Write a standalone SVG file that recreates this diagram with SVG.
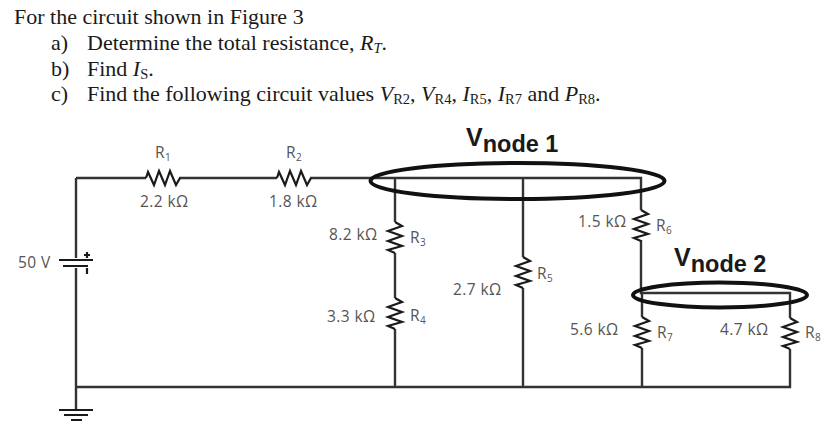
<svg xmlns="http://www.w3.org/2000/svg" width="837" height="432" viewBox="0 0 837 432">
<style>
.q{font-family:"Liberation Serif",serif;font-size:22px;fill:#1a1a1a}
.s{font-size:14.500px}
.i{font-style:italic}
.l{font-family:"Open Sans","Liberation Sans",sans-serif;font-size:15.500px;letter-spacing:.4px;fill:#555}
.sub{font-size:10px}
.v{font-family:"Liberation Sans",sans-serif;font-weight:bold;fill:#1a1a1a}
.w{fill:none;stroke:#333;stroke-width:2.400}
.r{fill:none;stroke:#1a1a1a;stroke-width:2.200;stroke-linejoin:miter}
.o{fill:none;stroke:#111;stroke-width:4}
</style>
<rect width="837" height="432" fill="#fff"/>
<g id="question">
<text class="q" x="14" y="24">For the circuit shown in Figure 3</text>
<text class="q" x="51" y="50">a)</text><text class="q" x="87" y="50">Determine the total resistance, <tspan class="i">R</tspan><tspan class="i s" dy="3">T</tspan><tspan dy="-3">.</tspan></text>
<text class="q" x="51" y="76">b)</text><text class="q" x="87" y="76">Find <tspan class="i">I</tspan><tspan class="s" dy="3">S</tspan><tspan dy="-3">.</tspan></text>
<text class="q" x="51" y="101">c)</text><text class="q" x="87" y="101">Find the following circuit values <tspan class="i">V</tspan><tspan class="s" dy="3">R2</tspan><tspan dy="-3">, </tspan><tspan class="i">V</tspan><tspan class="s" dy="3">R4</tspan><tspan dy="-3">, </tspan><tspan class="i">I</tspan><tspan class="s" dy="3">R5</tspan><tspan dy="-3">, </tspan><tspan class="i">I</tspan><tspan class="s" dy="3">R7</tspan><tspan dy="-3"> and </tspan><tspan class="i">P</tspan><tspan class="s" dy="3">R8</tspan><tspan dy="-3">.</tspan></text>
</g>
<g id="connectors">
<path class="w" d="M76 178H146M179 178H277M310 178H523H641V210M641 240V293H790V318M642 293V317M642 348V387M790 349V387H76M76 178V258M76 268V388V410M395 178V222M395 253V298M395 329V387M523 178V257M523 288V387"/>
</g>
<defs>
<path id="zh" class="r" d="M0 0l2-6 6 13 5-14 6 14 5-14 6 14 4-7"/>
<path id="zv" class="r" d="M0 0l7 4-14 5 14 5-14 5 14 5-14 4 7 3"/>
</defs>
<g id="R1"><use href="#zh" x="146" y="178"/><text class="l" x="155" y="158">R<tspan class="sub" dy="3">1</tspan></text><text class="l" x="140" y="207">2.2 kΩ</text></g>
<g id="R2"><use href="#zh" x="277" y="178"/><text class="l" x="286" y="158">R<tspan class="sub" dy="3">2</tspan></text><text class="l" x="269" y="207">1.8 kΩ</text></g>
<g id="R3"><use href="#zv" x="395" y="222"/><text class="l" x="329" y="240">8.2 kΩ</text><text class="l" x="410" y="243">R<tspan class="sub" dy="3">3</tspan></text></g>
<g id="R4"><use href="#zv" x="395" y="298"/><text class="l" x="327" y="322">3.3 kΩ</text><text class="l" x="410" y="321">R<tspan class="sub" dy="3">4</tspan></text></g>
<g id="R5"><use href="#zv" x="523" y="257"/><text class="l" x="453" y="295">2.7 kΩ</text><text class="l" x="537" y="279">R<tspan class="sub" dy="3">5</tspan></text></g>
<g id="R6"><use href="#zv" x="641" y="210"/><text class="l" x="578" y="227">1.5 kΩ</text><text class="l" x="656" y="231">R<tspan class="sub" dy="3">6</tspan></text></g>
<g id="R7"><use href="#zv" x="642" y="317"/><text class="l" x="570" y="335">5.6 kΩ</text><text class="l" x="657" y="338">R<tspan class="sub" dy="3">7</tspan></text></g>
<g id="R8"><use href="#zv" x="790" y="318"/><text class="l" x="720" y="335">4.7 kΩ</text><text class="l" x="805" y="338">R<tspan class="sub" dy="3">8</tspan></text></g>
<g id="source"><path class="r" d="M59 260H93M63 266H88"/><path class="r" d="M84 255h6M87 252v6M87 268v6"/><text class="l" x="18" y="268">50 V</text></g>
<g id="ground"><path class="r" d="M59 410H93M64 415H88M71 420H82"/></g>
<g id="vnode1"><ellipse class="o" cx="517.500" cy="181" rx="147" ry="18"/><text class="v" x="466" y="146" font-size="25">V<tspan font-size="23.500" dy="6">node 1</tspan></text></g>
<g id="vnode2"><ellipse class="o" cx="720" cy="295" rx="87" ry="12.500"/><text class="v" x="674" y="266" font-size="25">V<tspan font-size="23.500" dy="6">node 2</tspan></text></g>
</svg>
